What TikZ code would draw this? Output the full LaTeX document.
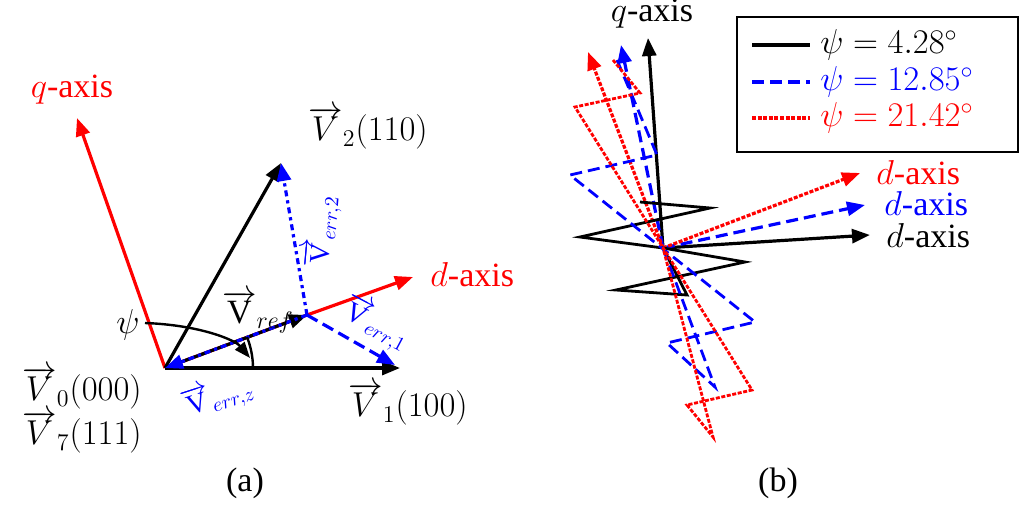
\documentclass[tikz,border=0pt]{standalone}
\usepackage{fontspec}
\setmainfont{Liberation Serif}
\usetikzlibrary{arrows.meta}
\begin{document}
\begin{tikzpicture}[x=0.5pt,y=-0.5pt,
  every node/.style={font=\fontsize{17}{19}\selectfont, inner sep=1pt},
  vec/.style={line width=1.6pt,-{Triangle[length=9pt,width=7pt]}},
  blk/.style={vec,black}, rd/.style={vec,red}, bl/.style={vec,blue},
  errl/.style={blue,font=\fontsize{14}{16}\selectfont},
  bdash/.style={dash pattern=on 6pt off 3pt},
  rdot/.style={dash pattern=on 2pt off 0.8pt},
  lz/.style={line width=1.4pt,line join=miter}]
\useasboundingbox (0,0) rectangle (1030,510);
% ---------- panel (a)
\coordinate (O) at (165,368);
\coordinate (P) at (307,315);
\coordinate (Q) at (77,118);
\coordinate (D) at (413,277);
\coordinate (V1) at (400,368);
\coordinate (V2) at (281,163);
\draw[rd] (O) -- (Q);
\draw[red,line width=1.6pt] (O) -- (P);
\draw[rd] (P) -- (D);
\draw[blk] (O) -- (V1);
\draw[blk] (O) -- (V2);
\draw[blk] (O) -- (P);
\draw[bl,dash dot] (P) -- (O);
\draw[bl,bdash] (P) -- (395,365);
\draw[bl,dash dot] (P) -- (V2);
\node[red] (ql) at (72,90) {$q$-axis};
\node[red,anchor=west] (dl) at (428,275) {$d$-axis};
\node (v1l) at (408,404) {$\overrightarrow{V}_1(100)$};
\node (v2l) at (368,128) {$\overrightarrow{V}_2(110)$};
\node (v0l) at (82,388) {$\overrightarrow{V}_0(000)$};
\node (v7l) at (82,432) {$\overrightarrow{V}_7(111)$};
\node (vrl) at (258,312) {$\overrightarrow{\mathrm{V}}_{ref}$};
\node[errl,rotate=18] (ezl) at (218,397) {$\overrightarrow{\mathrm{V}}_{err,z}$};
\node[errl,rotate=-28] (e1l) at (376,324) {$\overrightarrow{\mathrm{V}}_{err,1}$};
\node[errl,rotate=85] (e2l) at (322,232) {$\overrightarrow{\mathrm{V}}_{err,2}$};
\node (psil) at (128,325) {$\psi$};
\draw[line width=1.2pt,-{Triangle[length=8pt,width=6pt]}] (145,323) .. controls (200,325) and (235,340) .. (250,358);
\draw[line width=1.2pt] (253,368) .. controls (253,358) and (251,347) .. (247,337);
\node (al) at (245,483) {(a)};
% ---------- panel (b)
\coordinate (C) at (663,248);
\draw[blk] (C) -- (648,38);
\draw[blk] (C) -- (870,235);
\draw[bl,bdash] (C) -- (865,205);
\draw[rd,rdot] (C) -- (860,173);
\draw[bl,bdash] (C) -- (621,45);
\draw[rd,rdot] (C) -- (588,52);
\draw[lz,black] (640,202) -- (710,208) -- (580,237) -- (C) -- (745,262) -- (616,290) -- (687,295) -- (C);
\draw[lz,blue,bdash] (617,60) -- (657,155) -- (570,175) -- (755,322) -- (667,343) -- (715,387) -- (C);
\draw[lz,red,rdot] (613,60) -- (640,93) -- (575,107) -- (752,390) -- (687,405) -- (713,437) -- (C);
\node (qb) at (652,14) {$q$-axis};
\node[anchor=west] (db) at (884,236) {$d$-axis};
\node[anchor=west,blue] (dbb) at (882,204) {$d$-axis};
\node[anchor=west,red] (dbr) at (874,173) {$d$-axis};
\node (bl) at (778,483) {(b)};
% legend
\draw[line width=0.8pt,fill=white] (737,17) rectangle (1018,152);
\draw[line width=1.6pt] (752,45) -- (810,45);
\draw[line width=1.6pt,blue,bdash] (752,82) -- (810,82);
\draw[line width=1.6pt,red,rdot] (752,118) -- (810,118);
\node[anchor=west] (l1) at (818,45) {$\psi=4.28^\circ$};
\node[anchor=west,blue] (l2) at (818,82) {$\psi=12.85^\circ$};
\node[anchor=west,red] (l3) at (818,118) {$\psi=21.42^\circ$};
\end{tikzpicture}
\end{document}
